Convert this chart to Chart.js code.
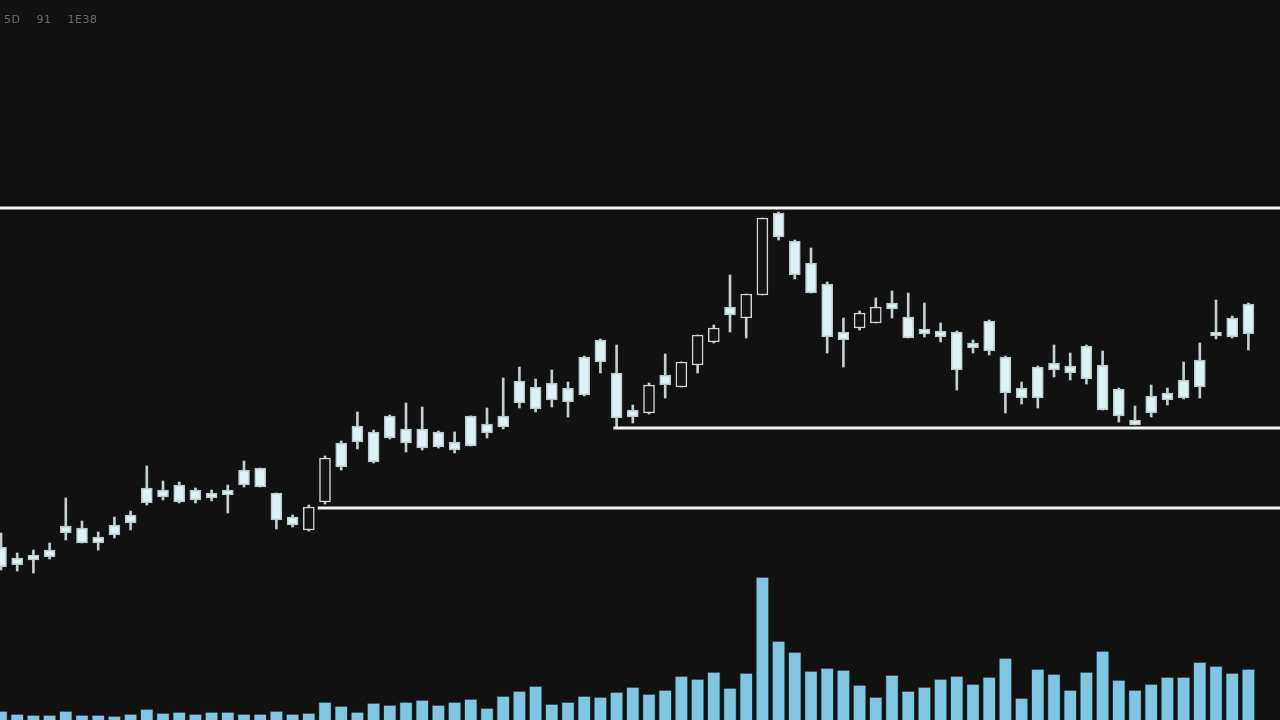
<!DOCTYPE html>
<html>
<head>
<meta charset="utf-8">
<script src="https://cdn.jsdelivr.net/npm/chart.js@4/dist/chart.umd.min.js"></script>
<style>
  html, body { margin: 0; padding: 0; background: #111111; overflow: hidden; }
  #wrap { position: relative; width: 1280px; height: 720px; }
  #tabs { position: absolute; left: 4px; top: 13px; font: 11px 'DejaVu Sans', sans-serif; color: #6a6a6a; letter-spacing: 0.5px; }
  #tabs span { margin-right: 16px; }
</style>
</head>
<body>
<div id="wrap">
  <canvas id="chart" width="1280" height="720"></canvas>
  <div id="tabs"><span>5D</span><span>91</span><span>1E38</span></div>
</div>
<script>
// OHLC per session (filled = down, hollow = up)
const open = [43.25, 40.5, 41.25, 42.5, 48.5, 48, 45.75, 48.75, 51.25, 58,
  57.5, 58.75, 57.5, 56.75, 57.5, 62.5, 63, 56.75, 50.75, 47.5,
  54.5, 69.25, 73.5, 72, 76, 72.75, 72.75, 72, 69.5, 76,
  74, 76, 84.75, 83.25, 84.25, 83, 90.75, 95, 86.75, 77.5,
  76.75, 86.25, 83.25, 88.75, 94.5, 103.25, 100.5, 106.25, 126.75, 119.75,
  114.25, 109, 97, 98, 99.25, 104.25, 100.75, 97.75, 97.25, 97,
  94.25, 99.75, 90.75, 83, 88.25, 89.25, 88.5, 93.5, 88.75, 82.75,
  75, 81, 81.75, 85, 90, 97, 100.5, 104];
const close = [38.25, 38.75, 40, 40.75, 46.75, 44.25, 44.25, 46.25, 49.25, 54.25,
  55.75, 54.5, 55, 55.5, 56.25, 58.75, 58.25, 50, 48.75, 53.25,
  65.5, 63.25, 69.5, 64.5, 70.5, 69.25, 68, 68.25, 67.5, 68.5,
  71.75, 73.25, 79.25, 77.75, 80, 79.5, 81.25, 89.5, 75.5, 75.75,
  83.75, 83.75, 89.5, 96.25, 98, 101.25, 106.5, 125.5, 120.75, 111.25,
  106.75, 95.75, 95, 101.75, 103.25, 102.75, 95.5, 96.5, 95.75, 87.5,
  93, 92.25, 81.75, 80.5, 80.5, 87.5, 86.75, 85.25, 77.5, 76,
  73.75, 76.75, 80, 80.5, 83.25, 96, 95.75, 96.5];
const high = [46.75, 41.75, 42.5, 44.25, 55.5, 49.75, 47, 50.75, 52.25, 63.5,
  59.75, 59.5, 58, 57.5, 58.75, 64.75, 63, 56.75, 51.25, 53.75,
  66, 69.75, 77, 72.5, 76.25, 79.25, 78.25, 72.25, 72, 76,
  78, 85.5, 88.25, 85.25, 87.5, 84.5, 91, 95.25, 93.75, 78.75,
  84.25, 91.5, 89.5, 96.25, 98.75, 111.25, 106.5, 125.5, 127, 120,
  118, 109.5, 100.5, 102.25, 105.5, 107.25, 106.75, 104.25, 99.25, 97.25,
  95, 100, 91, 84.5, 88.5, 93.75, 91.75, 93.75, 92.25, 83,
  78.5, 83.75, 83, 89.5, 94.25, 105, 101, 104.25];
const low = [37.5, 37.25, 36.75, 40.25, 45, 44.25, 42.5, 45.5, 47.5, 53.75,
  55, 54.25, 54.25, 54.75, 51.75, 58.25, 58.25, 47.75, 48.25, 47.25,
  54, 62.5, 67.75, 64.25, 70.25, 67, 67.5, 68, 66.75, 68.5,
  70.5, 72.75, 78, 77, 78.25, 75.75, 81, 86.75, 73.25, 74.25,
  76.5, 80.5, 83.25, 86.75, 94.25, 97, 95.5, 106.25, 120, 110.25,
  106.75, 91.75, 88.25, 97.5, 99.25, 100.5, 95.5, 95.75, 94.5, 82.5,
  91.75, 91.25, 76.75, 79, 78, 85.75, 85, 84, 77.5, 74.5,
  73.75, 75.75, 78.75, 80.25, 80.5, 95.25, 95.5, 92.5];
const volume = [9, 6, 5, 5, 9, 5, 5, 4, 6, 11,
  7, 8, 6, 8, 8, 6, 6, 9, 6, 7,
  18, 14, 8, 17, 15, 18, 20, 15, 18, 21,
  12, 24, 29, 34, 16, 18, 24, 23, 28, 33,
  26, 30, 44, 41, 48, 32, 47, 143, 79, 68,
  49, 52, 50, 35, 23, 45, 29, 33, 41, 44,
  36, 43, 62, 22, 51, 46, 30, 48, 69, 40,
  30, 36, 43, 43, 58, 54, 47, 51];

// support / resistance levels: price and the session index they start from
const levelPrice = [128, 73, 53];
const levelFrom = [-1, 37.8, 19.55];

const idx = open.map((_, i) => i);
const isUp = idx.map(i => close[i] >= open[i]);

const levelSets = levelPrice.map((p, k) => ({
  type: 'line',
  yAxisID: 'y',
  data: [{ x: levelFrom[k], y: p }, { x: 80, y: p }],
  borderColor: '#f4f4f4',
  borderWidth: 3,
  pointRadius: 0,
  order: 0,
}));

new Chart(document.getElementById('chart'), {
  type: 'bar',
  data: {
    datasets: [
      {
        label: 'Volume',
        yAxisID: 'yv',
        data: idx.map(i => ({ x: i, y: volume[i] })),
        barThickness: 13,
        backgroundColor: '#7fc6e2',
        borderColor: '#1c2a30',
        borderWidth: 1,
        grouped: false,
        order: 3,
      },
      {
        label: 'Wick',
        yAxisID: 'y',
        data: idx.map(i => ({ x: i, y: [low[i], high[i]] })),
        barThickness: 2,
        backgroundColor: '#c4cdd0',
        grouped: false,
        order: 2,
      },
      {
        label: 'Body',
        yAxisID: 'y',
        data: idx.map(i => ({ x: i, y: [Math.min(open[i], close[i]), Math.max(open[i], close[i])] })),
        barThickness: 11,
        backgroundColor: idx.map(i => isUp[i] ? '#141414' : '#def2f6'),
        borderColor: idx.map(i => isUp[i] ? '#cfd6d8' : '#b9c9cc'),
        borderWidth: 1.5,
        borderSkipped: false,
        grouped: false,
        order: 1,
      },
      ...levelSets,
    ],
  },
  options: {
    responsive: false,
    animation: false,
    devicePixelRatio: 1,
    layout: { padding: 0 },
    plugins: { legend: { display: false }, tooltip: { enabled: false } },
    scales: {
      x: { type: 'linear', min: -0.062, max: 78.95, offset: false, display: false },
      y: { min: 0, max: 180, display: false },
      yv: { min: 0, max: 720, display: false },
    },
  },
});
</script>
</body>
</html>
